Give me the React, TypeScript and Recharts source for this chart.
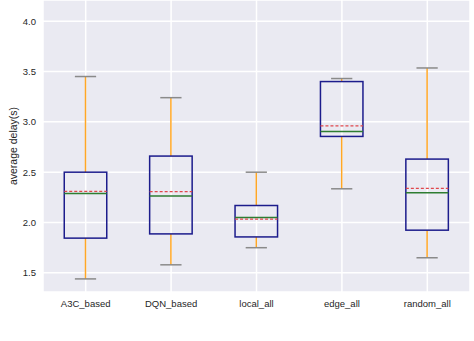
import { Bar, CartesianGrid, ComposedChart, XAxis, YAxis } from "recharts";

const methods = ["A3C_based", "DQN_based", "local_all", "edge_all", "random_all"];
const whiskerLow = [1.44, 1.58, 1.75, 2.335, 1.65];
const q1 = [1.845, 1.887, 1.857, 2.855, 1.924];
const median = [2.289, 2.263, 2.05, 2.904, 2.296];
const mean = [2.31, 2.306, 2.034, 2.96, 2.34];
const q3 = [2.5, 2.66, 2.169, 3.4, 2.63];
const whiskerHigh = [3.45, 3.24, 2.5, 3.43, 3.535];
const yTicks = [1.5, 2.0, 2.5, 3.0, 3.5, 4.0];

const data = methods.map((name, i) => ({
  name,
  lo: whiskerLow[i],
  q1: q1[i],
  med: median[i],
  mean: mean[i],
  q3: q3[i],
  hi: whiskerHigh[i],
}));

const BoxShape = (props: any) => {
  const { x, y, width, height, payload } = props;
  const top = Math.min(y, y + height);
  const h = Math.abs(height);
  const { lo, hi } = payload;
  const pix = (v: number) => top + ((hi - v) / (hi - lo)) * h;
  const cx = x + width / 2;
  const bw = width / 2;
  const cw = width / 4;
  const yq1 = pix(payload.q1);
  const yq3 = pix(payload.q3);
  return (
    <g>
      <line x1={cx} x2={cx} y1={pix(hi)} y2={yq3} stroke="#ffa726" strokeWidth={1.5} />
      <line x1={cx} x2={cx} y1={yq1} y2={pix(lo)} stroke="#ffa726" strokeWidth={1.5} />
      <line x1={cx - cw / 2} x2={cx + cw / 2} y1={pix(hi)} y2={pix(hi)} stroke="#8a8a8a" strokeWidth={1.5} />
      <line x1={cx - cw / 2} x2={cx + cw / 2} y1={pix(lo)} y2={pix(lo)} stroke="#8a8a8a" strokeWidth={1.5} />
      <rect x={cx - bw / 2} y={yq3} width={bw} height={yq1 - yq3} fill="none" stroke="#1c1c8c" strokeWidth={1.5} />
      <line x1={cx - bw / 2} x2={cx + bw / 2} y1={pix(payload.med)} y2={pix(payload.med)} stroke="#2e7d32" strokeWidth={1.5} />
      <line
        x1={cx - bw / 2}
        x2={cx + bw / 2}
        y1={pix(payload.mean)}
        y2={pix(payload.mean)}
        stroke="#e0474c"
        strokeWidth={1.2}
        strokeDasharray="3 2"
      />
    </g>
  );
};

export default function App() {
  return (
    <div style={{ position: "absolute", left: 0, top: 0, background: "#fff" }}>
      <ComposedChart
        width={474}
        height={341}
        data={data}
        margin={{ top: 0, right: 4, bottom: 19, left: 0 }}
        barCategoryGap={0}
        style={{ fontFamily: "'Liberation Sans', Arial, sans-serif" }}
      >
        <CartesianGrid fill="#eaeaf2" stroke="#ffffff" strokeWidth={1.5} />
        <XAxis
          dataKey="name"
          axisLine={false}
          tickLine={false}
          tickSize={6}
          height={30}
          tick={{ fill: "#262626", fontSize: 9.5 }}
        />
        <YAxis
          type="number"
          domain={[1.31, 4.21]}
          ticks={yTicks}
          tickFormatter={(v: number) => v.toFixed(1)}
          allowDataOverflow
          axisLine={false}
          tickLine={false}
          tickSize={5}
          tickMargin={2}
          width={43}
          tick={{ fill: "#262626", fontSize: 9.5 }}
          label={{
            value: "average delay(s)",
            angle: -90,
            position: "insideLeft",
            offset: 13,
            style: { textAnchor: "middle", fill: "#262626", fontSize: 10.5 },
          }}
        />
        <Bar dataKey={(d: any) => [d.lo, d.hi]} shape={BoxShape} isAnimationActive={false} />
      </ComposedChart>
    </div>
  );
}
